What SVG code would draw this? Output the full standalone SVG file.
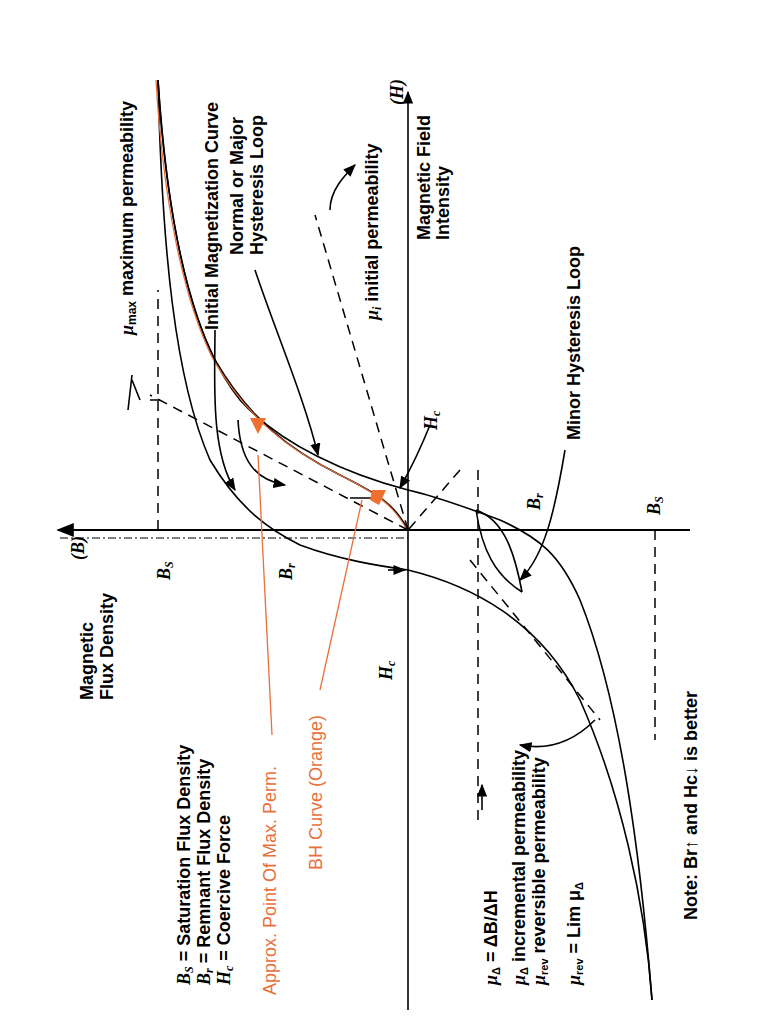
<svg xmlns="http://www.w3.org/2000/svg" width="768" height="1024" viewBox="0 0 768 1024">
<style>
text{font-family:"Liberation Sans",Arial,sans-serif;font-weight:bold;font-size:18px;fill:#000}
.it{font-family:"Liberation Serif",serif;font-style:italic}
.c{fill:none;stroke:#000;stroke-width:1.6}
.d{fill:none;stroke:#000;stroke-width:1.5;stroke-dasharray:10 7}
.o{fill:none;stroke:#e8703a;stroke-width:1.3}
.ot{fill:#e8703a;font-weight:normal}
</style>
<defs>
<marker id="a" viewBox="0 0 10 10" refX="9" refY="5" markerWidth="8" markerHeight="8" orient="auto"><path d="M0,1L10,5L0,9z" fill="#000"/></marker>
</defs>
<rect width="768" height="1024" fill="#fff"/>
<g id="axes">
<line x1="690" y1="530" x2="58" y2="530" stroke="#000" stroke-width="2.2" marker-end="url(#a)"/>
<line x1="408" y1="1010" x2="408" y2="92" stroke="#000" stroke-width="1.6" marker-end="url(#a)"/>
<line x1="60" y1="538" x2="408" y2="538" stroke="#000" stroke-width="1" stroke-dasharray="8 3 2 3"/>
</g>
<g id="curves">
<path class="c" d="M158,80 C162,250 175,380 210,460 C240,510 270,530 300,545 C340,560 380,566 408,570 C470,585 540,620 580,700 C620,790 645,900 652,1000"/>
<path class="c" d="M652,1000 C640,850 620,700 580,600 C560,555 540,538 500,520 C460,505 430,495 408,490 C350,475 280,445 240,400 C200,350 170,260 158,80"/>
<path class="c" d="M408,530 C395,505 380,495 340,475 C290,450 250,420 215,360 C185,300 165,200 158,80"/>
<path class="o" d="M406,528 C393,505 378,494 338,474 C288,449 248,419 213,359 C183,299 163,199 156,80"/>
<path class="c" d="M476,510 C505,520 515,555 522,592"/>
<path class="c" d="M476,510 C482,550 495,575 522,592"/>
</g>
<g id="dashed">
<line class="d" x1="408" y1="530" x2="150" y2="395"/>
<line class="d" x1="408" y1="530" x2="315" y2="215"/>
<line class="d" x1="470" y1="560" x2="600" y2="720"/>
<line class="d" x1="158" y1="530" x2="158" y2="290"/>
<line class="d" x1="478" y1="470" x2="478" y2="820"/>
<line class="d" x1="655" y1="530" x2="655" y2="740"/>
<line class="d" x1="460" y1="470" x2="408" y2="530"/>
</g>
<g id="arrows">
<path class="c" d="M150,400 L160,400 M132,380 L140,400 M128,410 L132,375" stroke-width="1.2"/>
<path class="c" d="M330,210 C330,190 345,175 355,165" marker-end="url(#a)"/>
<path class="c" d="M215,330 C215,380 210,450 235,490" marker-end="url(#a)"/>
<path class="c" d="M255,270 C275,330 305,400 318,455" marker-end="url(#a)"/>
<path class="c" d="M238,420 C240,460 255,480 285,485" marker-end="url(#a)"/>
<path class="c" d="M430,425 C420,450 410,470 400,488" marker-end="url(#a)"/>
<path class="c" d="M388,570 L405,570" marker-end="url(#a)"/>
<path class="c" d="M565,450 C555,510 545,555 520,580" marker-end="url(#a)"/>
<path class="c" d="M595,720 C570,745 545,750 520,745" marker-end="url(#a)"/>
<path class="c" d="M482,810 L482,785" marker-end="url(#a)" stroke-width="2"/>
<line x1="350" y1="498" x2="372" y2="498" stroke="#000" stroke-width="1.5"/>
</g>
<g id="orange">
<line class="o" x1="272" y1="735" x2="258" y2="455"/>
<line class="o" x1="320" y1="690" x2="362" y2="500"/>
<path d="M250,418 L266,418 L258,434z" fill="#f07030"/>
<path d="M372,490 L386,490 L379,505 L370,500z" fill="#f07030"/>
</g>
<g id="labels">
<text transform="translate(93,700) rotate(-90)">Magnetic</text>
<text transform="translate(113,700) rotate(-90)">Flux Density</text>
<text class="it" transform="translate(84,560) rotate(-90)">(B)</text>
<text class="it" transform="translate(170,580) rotate(-90)">B<tspan font-size="12" dy="3">S</tspan></text>
<text class="it" transform="translate(292,580) rotate(-90)">B<tspan font-size="12" dy="3">r</tspan></text>
<text class="it" transform="translate(392,680) rotate(-90)">H<tspan font-size="12" dy="3">c</tspan></text>
<text transform="translate(190,985) rotate(-90)"><tspan class="it">B<tspan font-size="12" dy="3">S</tspan></tspan><tspan dy="-3"> = Saturation Flux Density</tspan></text>
<text transform="translate(210,985) rotate(-90)"><tspan class="it">B<tspan font-size="12" dy="3">r</tspan></tspan><tspan dy="-3"> = Remnant Flux Density</tspan></text>
<text transform="translate(230,985) rotate(-90)"><tspan class="it">H<tspan font-size="12" dy="3">c</tspan></tspan><tspan dy="-3"> = Coercive Force</tspan></text>
<text class="ot" font-size="16" transform="translate(276,995) rotate(-90)">Approx. Point Of Max. Perm.</text>
<text class="ot" font-size="16" transform="translate(322,870) rotate(-90)">BH Curve (Orange)</text>
<text transform="translate(497,985) rotate(-90)"><tspan class="it">μ</tspan><tspan font-size="11" dy="3">Δ</tspan><tspan dy="-3"> = ΔB/ΔH</tspan></text>
<text transform="translate(525,985) rotate(-90)"><tspan class="it">μ</tspan><tspan font-size="11" dy="3">Δ</tspan><tspan dy="-3"> incremental permeability</tspan></text>
<text transform="translate(545,985) rotate(-90)"><tspan class="it">μ</tspan><tspan font-size="11" dy="3">rev</tspan><tspan dy="-3">   reversible permeability</tspan></text>
<text transform="translate(580,985) rotate(-90)"><tspan class="it">μ</tspan><tspan font-size="11" dy="3">rev</tspan><tspan dy="-3"> = Lim μ</tspan><tspan font-size="11" dy="3">Δ</tspan></text>
<text font-size="13" transform="translate(697,920) rotate(-90)">Note: Br↑ and Hc↓ is better</text>
<text transform="translate(580,440) rotate(-90)">Minor Hysteresis Loop</text>
<text transform="translate(430,240) rotate(-90)">Magnetic Field</text>
<text transform="translate(449,240) rotate(-90)">Intensity</text>
<text class="it" transform="translate(403,105) rotate(-90)">(H)</text>
<text transform="translate(378,320) rotate(-90)"><tspan class="it">μ</tspan><tspan class="it" font-size="12" dy="3">i</tspan><tspan dy="-3">  initial permeability</tspan></text>
<text transform="translate(218,330) rotate(-90)">Initial Magnetization Curve</text>
<text transform="translate(243,255) rotate(-90)">Normal or Major</text>
<text transform="translate(263,255) rotate(-90)">Hysteresis Loop</text>
<text transform="translate(133,335) rotate(-90)"><tspan class="it">μ</tspan><tspan font-size="12" dy="3">max</tspan><tspan dy="-3">  maximum permeability</tspan></text>
<text class="it" transform="translate(437,430) rotate(-90)">H<tspan font-size="12" dy="3">c</tspan></text>
<text class="it" transform="translate(540,510) rotate(-90)">B<tspan font-size="12" dy="3">r</tspan></text>
<text class="it" transform="translate(660,515) rotate(-90)">B<tspan font-size="12" dy="3">S</tspan></text>
</g>
</svg>
